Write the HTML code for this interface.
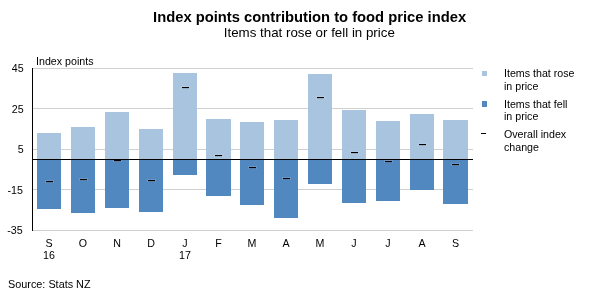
<!DOCTYPE html>
<html><head><meta charset="utf-8"><style>
html,body{margin:0;padding:0;background:#fff;}
body{width:598px;height:296px;overflow:hidden;position:relative;}
svg{position:absolute;left:0;top:0;will-change:transform;}
text{font-family:"Liberation Sans",sans-serif;font-size:10.67px;fill:#000;}
</style></head><body>
<svg width="598" height="296" viewBox="0 0 598 296">
<text x="309.6" y="21.7" text-anchor="middle" style="font-size:14.75px;font-weight:bold">Index points contribution to food price index</text>
<text x="309.3" y="36.5" text-anchor="middle" style="font-size:13.33px">Items that rose or fell in price</text>
<text x="36" y="64.6">Index points</text>
<rect x="33" y="68" width="440" height="1" fill="#d0d0d0"/>
<rect x="33" y="108" width="440" height="1" fill="#d0d0d0"/>
<rect x="33" y="149" width="440" height="1" fill="#d0d0d0"/>
<rect x="33" y="189" width="440" height="1" fill="#d0d0d0"/>
<rect x="33" y="230" width="440" height="1" fill="#d0d0d0"/>
<rect x="37" y="133" width="24" height="26" fill="#a9c4de"/>
<rect x="37" y="159" width="24" height="50" fill="#5288c0"/>
<rect x="71" y="127" width="24" height="32" fill="#a9c4de"/>
<rect x="71" y="159" width="24" height="54" fill="#5288c0"/>
<rect x="105" y="112" width="24" height="47" fill="#a9c4de"/>
<rect x="105" y="159" width="24" height="49" fill="#5288c0"/>
<rect x="139" y="129" width="24" height="30" fill="#a9c4de"/>
<rect x="139" y="159" width="24" height="53" fill="#5288c0"/>
<rect x="173" y="73" width="24" height="86" fill="#a9c4de"/>
<rect x="173" y="159" width="24" height="16" fill="#5288c0"/>
<rect x="206" y="119" width="25" height="40" fill="#a9c4de"/>
<rect x="206" y="159" width="25" height="37" fill="#5288c0"/>
<rect x="240" y="122" width="24" height="37" fill="#a9c4de"/>
<rect x="240" y="159" width="24" height="46" fill="#5288c0"/>
<rect x="274" y="120" width="24" height="39" fill="#a9c4de"/>
<rect x="274" y="159" width="24" height="59" fill="#5288c0"/>
<rect x="308" y="74" width="24" height="85" fill="#a9c4de"/>
<rect x="308" y="159" width="24" height="25" fill="#5288c0"/>
<rect x="342" y="110" width="24" height="49" fill="#a9c4de"/>
<rect x="342" y="159" width="24" height="44" fill="#5288c0"/>
<rect x="376" y="121" width="24" height="38" fill="#a9c4de"/>
<rect x="376" y="159" width="24" height="42" fill="#5288c0"/>
<rect x="410" y="114" width="24" height="45" fill="#a9c4de"/>
<rect x="410" y="159" width="24" height="31" fill="#5288c0"/>
<rect x="443" y="120" width="25" height="39" fill="#a9c4de"/>
<rect x="443" y="159" width="25" height="45" fill="#5288c0"/>
<rect x="45" y="180" width="9" height="3" fill="#fff" fill-opacity="0.12"/>
<rect x="46" y="181" width="7" height="1.15" fill="#000"/>
<text x="49.00" y="247" text-anchor="middle">S</text>
<text x="49.00" y="259" text-anchor="middle">16</text>
<rect x="79" y="178" width="9" height="3" fill="#fff" fill-opacity="0.12"/>
<rect x="80" y="179" width="7" height="1.15" fill="#000"/>
<text x="83.00" y="247" text-anchor="middle">O</text>
<rect x="113" y="159" width="9" height="3" fill="#fff" fill-opacity="0.12"/>
<rect x="114" y="160" width="7" height="1.15" fill="#000"/>
<text x="117.00" y="247" text-anchor="middle">N</text>
<rect x="147" y="179" width="9" height="3" fill="#fff" fill-opacity="0.12"/>
<rect x="148" y="180" width="7" height="1.15" fill="#000"/>
<text x="151.00" y="247" text-anchor="middle">D</text>
<rect x="181" y="86" width="9" height="3" fill="#fff" fill-opacity="0.12"/>
<rect x="182" y="87" width="7" height="1.15" fill="#000"/>
<text x="185.00" y="247" text-anchor="middle">J</text>
<text x="185.00" y="259" text-anchor="middle">17</text>
<rect x="214" y="154" width="9" height="3" fill="#fff" fill-opacity="0.12"/>
<rect x="215" y="155" width="7" height="1.15" fill="#000"/>
<text x="218.50" y="247" text-anchor="middle">F</text>
<rect x="248" y="166" width="9" height="3" fill="#fff" fill-opacity="0.12"/>
<rect x="249" y="167" width="7" height="1.15" fill="#000"/>
<text x="252.00" y="247" text-anchor="middle">M</text>
<rect x="282" y="177" width="9" height="3" fill="#fff" fill-opacity="0.12"/>
<rect x="283" y="178" width="7" height="1.15" fill="#000"/>
<text x="286.00" y="247" text-anchor="middle">A</text>
<rect x="316" y="96" width="9" height="3" fill="#fff" fill-opacity="0.12"/>
<rect x="317" y="97" width="7" height="1.15" fill="#000"/>
<text x="320.00" y="247" text-anchor="middle">M</text>
<rect x="350" y="151" width="9" height="3" fill="#fff" fill-opacity="0.12"/>
<rect x="351" y="152" width="7" height="1.15" fill="#000"/>
<text x="354.00" y="247" text-anchor="middle">J</text>
<rect x="384" y="160" width="9" height="3" fill="#fff" fill-opacity="0.12"/>
<rect x="385" y="161" width="7" height="1.15" fill="#000"/>
<text x="388.00" y="247" text-anchor="middle">J</text>
<rect x="418" y="143" width="9" height="3" fill="#fff" fill-opacity="0.12"/>
<rect x="419" y="144" width="7" height="1.15" fill="#000"/>
<text x="422.00" y="247" text-anchor="middle">A</text>
<rect x="451" y="163" width="9" height="3" fill="#fff" fill-opacity="0.12"/>
<rect x="452" y="164" width="7" height="1.15" fill="#000"/>
<text x="455.50" y="247" text-anchor="middle">S</text>
<rect x="33" y="159" width="440" height="1" fill="#000"/>
<rect x="32" y="68" width="1" height="163" fill="#000"/>
<text x="23.6" y="72" text-anchor="end">45</text>
<text x="23.6" y="113" text-anchor="end">25</text>
<text x="23.6" y="153" text-anchor="end">5</text>
<text x="22.9" y="194" text-anchor="end">-15</text>
<text x="22.7" y="234" text-anchor="end">-35</text>
<rect x="482" y="71" width="5" height="5" fill="#a9c4de"/>
<rect x="482" y="101" width="5" height="6" fill="#5288c0"/>
<rect x="481" y="133" width="5" height="1" fill="#000"/>
<text x="504" y="76.8">Items that rose</text>
<text x="504" y="89.6">in price</text>
<text x="504" y="108.2">Items that fell</text>
<text x="504" y="120.1">in price</text>
<text x="504" y="138.2">Overall index</text>
<text x="504" y="150.6">change</text>
<text x="8" y="288" style="font-size:10.85px">Source: Stats NZ</text>
</svg>
</body></html>
